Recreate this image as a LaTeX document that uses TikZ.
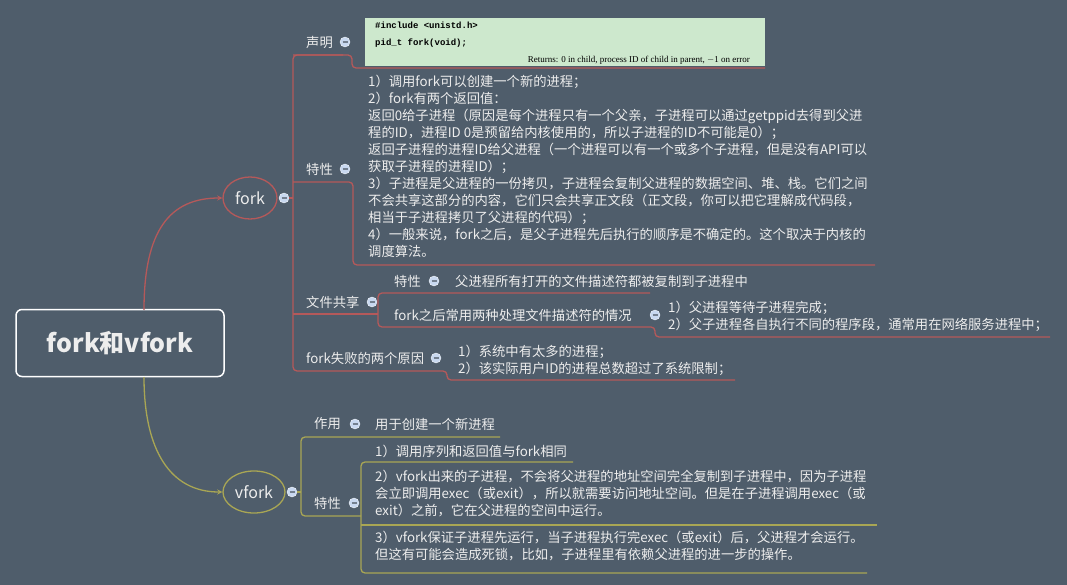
\documentclass[tikz,border=0pt]{standalone}
\usepackage{fontspec}
\usetikzlibrary{shapes.geometric}
\setmainfont{Noto Sans CJK SC}
\newfontfamily\codefont{Liberation Mono}
\newfontfamily\serifont{Liberation Serif}
\definecolor{bgc}{HTML}{4F5D6B}
\definecolor{redc}{HTML}{B5595A}
\definecolor{olc}{HTML}{A9A654}
\definecolor{txc}{HTML}{EDEDED}
\definecolor{cbc}{HTML}{C8D8F0}
\definecolor{codebg}{HTML}{CDE8CD}
\begin{document}
\begin{tikzpicture}[x=1pt,y=-1pt,
  txt/.style={text=txc,inner sep=0pt,anchor=west,align=left,font=\fontsize{13.3}{17}\selectfont},
  cb/.style={circle,draw=white!80!cbc,fill=cbc,minimum size=10pt,inner sep=0pt,
    path picture={\draw[black!30!cbc!60!bgc,line width=1.2pt] ([xshift=-2.5pt]path picture bounding box.center)--([xshift=2.5pt]path picture bounding box.center);}},
  rl/.style={draw=redc,line width=1.3pt,rounded corners=4pt},
  ol/.style={draw=olc,line width=1.3pt,rounded corners=4pt}]
\fill[bgc] (0,0) rectangle (1067,585);
\useasboundingbox (0,0) rectangle (1067,585);
% root
\node[draw=white,line width=1.5pt,rounded corners=6pt,minimum width=208pt,minimum height=67pt,text=txc,font=\fontsize{25}{30}\selectfont\bfseries] (root) at (120,343) {fork和vfork};
\node[draw=redc,line width=1.3pt,ellipse,minimum width=54pt,minimum height=42pt,inner sep=0pt,text=txc,font=\fontsize{16}{18}\selectfont] (fork) at (250,198) {fork};
\node[draw=olc,line width=1.3pt,ellipse,minimum width=62pt,minimum height=42pt,inner sep=0pt,text=txc,font=\fontsize{16}{18}\selectfont] (vfork) at (254,492) {vfork};
\draw[redc,line width=1.3pt,-stealth] (144,310) .. controls (144,230) and (170,198) .. (fork.west);
\draw[olc,line width=1.3pt,-stealth] (144,377) .. controls (144,450) and (170,492) .. (vfork.west);
\node[cb] (cf) at (284,198) {};
\node[cb] (cv) at (292,492) {};
% fork spine
\draw[rl] (cf.east) -- (293,198);
\draw[rl] (343,55) -- (293,55) -- (293,371) -- (447,371) -- (447,380) -- (735,380);
\draw[rl] (293,182) -- (353,182) -- (353,265) -- (875,265);
\draw[rl] (293,55) -- (352,55) -- (352,68) -- (765,68);
\draw[rl] (293,314) -- (378,314);
% 声明
\node[txt] (sm) at (306,42) {声明};
\node[cb] (csm) at (345,42) {};
\fill[codebg] (365,18) rectangle (765,66);
\node[text=black,inner sep=0pt,anchor=west,font=\codefont\bfseries\fontsize{9}{10}\selectfont] (c1) at (375,25) {\#include <unistd.h>};
\node[text=black,inner sep=0pt,anchor=west,font=\codefont\bfseries\fontsize{9}{10}\selectfont] (c2) at (375,43) {pid\_t fork(void);};
\node[text=black,inner sep=0pt,anchor=east,font=\serifont\fontsize{9}{10}\selectfont] (c3) at (750,60) {Returns: 0 in child, process ID of child in parent, $-$1 on error};
% 特性
\node[txt] (tx) at (306,169) {特性};
\node[cb] (ctx) at (345,169) {};
\node[txt,anchor=north west] (txt1) at (368,75) {1）调用fork可以创建一个新的进程；\\2）fork有两个返回值：\\返回0给子进程（原因是每个进程只有一个父亲，子进程可以通过getppid去得到父进\\程的ID，进程ID 0是预留给内核使用的，所以子进程的ID不可能是0）；\\返回子进程的进程ID给父进程（一个进程可以有一个或多个子进程，但是没有API可以\\获取子进程的进程ID）；\\3）子进程是父进程的一份拷贝，子进程会复制父进程的数据空间、堆、栈。它们之间\\不会共享这部分的内容，它们只会共享正文段（正文段，你可以把它理解成代码段，\\相当于子进程拷贝了父进程的代码）；\\4）一般来说，fork之后，是父子进程先后执行的顺序是不确定的。这个取决于内核的\\ 调度算法。};
% 文件共享
\node[txt] (wj) at (306,302) {文件共享};
\node[cb] (cwj) at (372,302) {};
\draw[rl] (650,293) -- (378,293) -- (378,327) -- (655,327) -- (655,337) -- (1050,337);
\node[txt] (wt) at (394,281) {特性};
\node[cb] (cwt) at (434,281) {};
\node[txt] (wt1) at (455,281) {父进程所有打开的文件描述符都被复制到子进程中};
\node[txt] (wf) at (394,315) {fork之后常用两种处理文件描述符的情况};
\node[cb] (cwf) at (655,315) {};
\node[txt] (wf1) at (668,308) {1）父进程等待子进程完成；};
\node[txt] (wf2) at (668,325) {2）父子进程各自执行不同的程序段，通常用在网络服务进程中；};
% fork失败
\node[txt] (sb) at (306,358) {fork失败的两个原因};
\node[cb] (csb) at (436,358) {};
\node[txt] (sb1) at (458,352) {1）系统中有太多的进程；};
\node[txt] (sb2) at (458,369) {2）该实际用户ID的进程总数超过了系统限制；};
% vfork
\draw[ol] (cv.east) -- (301,492);
\draw[ol] (500,437) -- (301,437) -- (301,516) -- (361,516);
\draw[ol] (573,462) -- (361,462) -- (361,573) -- (867,573);
\draw[ol] (361,525) -- (877,525);
\node[txt] (zy) at (314,424) {作用};
\node[cb] (czy) at (355,424) {};
\node[txt] (zy1) at (375,424) {用于创建一个新进程};
\node[txt] (vt) at (314,503) {特性};
\node[cb] (cvt) at (354,503) {};
\node[txt] (v1) at (375,451) {1）调用序列和返回值与fork相同};
\node[txt,anchor=north west] (v2) at (375,470) {2）vfork出来的子进程，不会将父进程的地址空间完全复制到子进程中，因为子进程\\会立即调用exec（或exit），所以就需要访问地址空间。但是在子进程调用exec（或\\exit）之前，它在父进程的空间中运行。};
\node[txt,anchor=north west] (v3) at (375,531) {3）vfork保证子进程先运行，当子进程执行完exec（或exit）后，父进程才会运行。\\但这有可能会造成死锁，比如，子进程里有依赖父进程的进一步的操作。};
\end{tikzpicture}
\end{document}
